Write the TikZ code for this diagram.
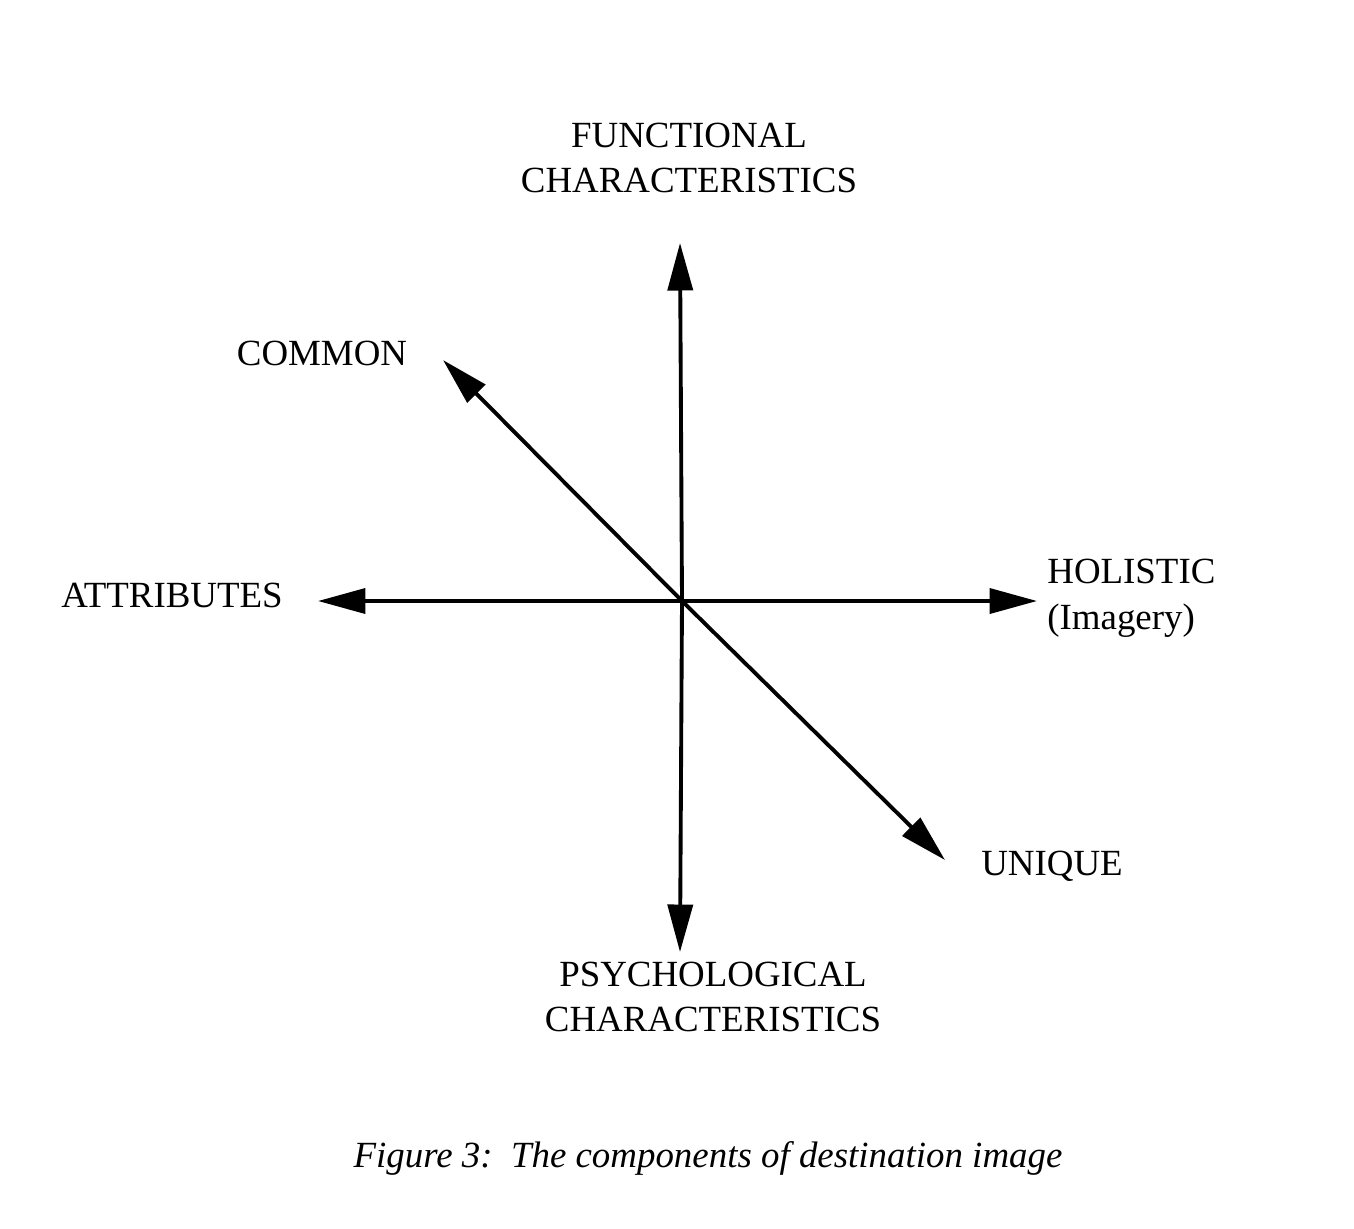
\documentclass[tikz,border=0pt]{standalone}
\usepackage{fontspec}
\setmainfont{Liberation Serif}
\usetikzlibrary{arrows.meta}
\begin{document}
\begin{tikzpicture}[x=0.02cm,y=-0.02cm,
  lbl/.style={font=\fontsize{21}{26}\selectfont, align=center, inner sep=0pt},
  axis/.style={line width=2.2pt, -{Triangle[length=0.95cm,width=0.5cm]}}]
\useasboundingbox (0,0) rectangle (1354,1228);
\coordinate (o) at (682,601);
\coordinate (n) at (680,243);
\coordinate (s) at (680,952);
\coordinate (w) at (318,601);
\coordinate (e) at (1037,601);
\coordinate (nw) at (443,360);
\coordinate (se) at (945,860);
\draw[axis] (o) -- (n);
\draw[axis] (o) -- (s);
\draw[axis] (o) -- (w);
\draw[axis] (o) -- (e);
\draw[axis] (o) -- (nw);
\draw[axis] (o) -- (se);
\node[lbl] (fc) at (689,158) {FUNCTIONAL\\CHARACTERISTICS};
\node[lbl] (cm) at (322,353) {COMMON};
\node[lbl] (at) at (172,595) {ATTRIBUTES};
\node[lbl, align=left, anchor=west] (ho) at (1047,598) {HOLISTIC\\(Imagery)};
\node[lbl] (un) at (1052,866) {UNIQUE};
\node[lbl] (ps) at (713,997) {PSYCHOLOGICAL\\CHARACTERISTICS};
\node[lbl, font=\fontsize{21}{26}\selectfont\itshape] (cap) at (708,1158) {Figure 3:\ \ The components of destination image};
\end{tikzpicture}
\end{document}
